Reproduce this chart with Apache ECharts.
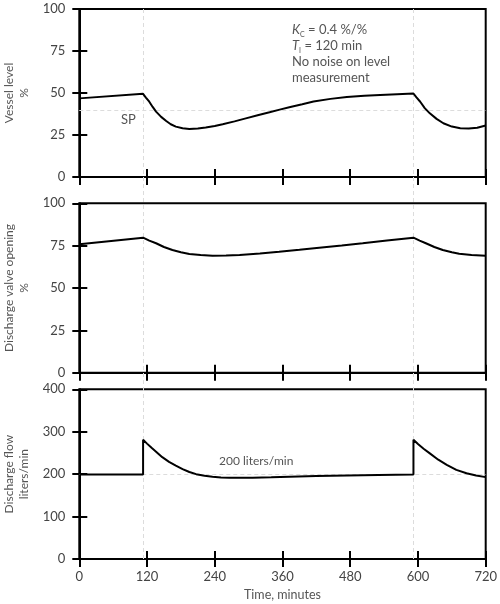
<!DOCTYPE html>
<html>
<head>
<meta charset="utf-8">
<script src="https://cdn.jsdelivr.net/npm/echarts@6/dist/echarts.min.js"></script>
<style>
html,body{margin:0;padding:0;background:#fff;}
#main{width:500px;height:604px;}
</style>
</head>
<body>
<div id="main"></div>
<script>
// time axis (minutes) shared by all three panels
var timeMin = 0, timeMax = 720, timeStep = 120;
var disturbanceTimes = [113, 592];

// vessel level, %
var levelTime = [0,113,118,124,130,136,145,154,162,171,183,195,210,224,240,254,275,295,316,337,355,372,395,415,445,474,505,533,563,592,597,604,612,621,633,645,660,675,690,705,720];
var levelPct  = [46.8,49.5,47.3,44.8,41.7,38.9,35.8,33.3,31.4,30.0,29.0,28.6,28.8,29.4,30.3,31.4,33.1,34.9,36.8,38.5,40.1,41.5,43.3,44.9,46.5,47.6,48.3,48.8,49.3,49.7,47.5,44.8,41.0,37.9,34.6,32.0,30.0,29.0,28.8,29.3,30.7];
var levelSetpoint = 40;

// discharge valve opening, %
var valveTime = [0,113,124,136,150,165,180,195,215,236,260,284,320,354,390,425,465,502,545,592,603,614,629,644,660,673,695,720];
var valvePct  = [75.8,79.7,78.0,76.4,74.2,72.4,71.1,70.1,69.5,69.1,69.2,69.5,70.4,71.4,72.6,73.8,75.1,76.4,78.0,79.7,78.0,76.4,74.2,72.4,71.1,70.2,69.5,69.1];

// discharge flow, liters/min
var flowTime = [0,113,113,120,128,136,147,159,171,183,195,207,222,236,251,266,290,307,340,372,420,474,530,592,592,600,610,621,636,651,668,686,703,720];
var flowLpm  = [199,199,281,272,262,253,240,229,220,212,205,200,196,194,192,191.5,191.5,191.7,192.5,194,195.5,197,198,199,281,271,260,249,234,222,210,202,197,193];
var flowNominal = 200;

var FONT = 'Lato';
var TXT = '#555';
var ec = echarts.init(document.getElementById('main'));

var grids = [
  {left: 79.3, right: 14.3, top: 9, height: 168},
  {left: 79.3, right: 14.3, top: 203.3, height: 169.4},
  {left: 79.3, right: 14.3, top: 389.3, height: 169.7}
];
var yCfg = [
  {max: 100, interval: 25, name: 'Vessel level\n%'},
  {max: 100, interval: 25, name: 'Discharge valve opening\n%'},
  {max: 400, interval: 100, name: 'Discharge flow\nliters/min'}
];

var xAxes = [], yAxes = [], gridList = [];
grids.forEach(function (g, i) {
  gridList.push({left: g.left, right: g.right, top: g.top, height: g.height,
    outerBoundsMode: 'none', containLabel: false,
    show: true, borderColor: '#000', borderWidth: 2, backgroundColor: 'transparent'});
  var last = i === 2;
  // outer ticks + axis line + labels
  xAxes.push({type: 'value', gridIndex: i, min: timeMin, max: timeMax, interval: timeStep, position: 'bottom',
    axisLine: {show: true, lineStyle: {color: '#000', width: 2}},
    axisTick: {show: true, inside: false, length: 8, lineStyle: {color: '#000', width: 2}},
    axisLabel: {show: last, margin: 11, color: '#444', fontSize: 13, fontFamily: FONT},
    splitLine: {show: false},
    name: last ? 'Time, minutes' : '', nameLocation: 'middle', nameGap: 29,
    nameTextStyle: {color: TXT, fontSize: 12.5, fontFamily: FONT}});
  // inner ticks, so the ticks cross the axis
  xAxes.push({type: 'value', gridIndex: i, min: timeMin, max: timeMax, interval: timeStep, position: 'bottom',
    axisLine: {show: false, onZero: false}, axisLabel: {show: false}, splitLine: {show: false},
    axisTick: {show: true, inside: true, length: 8, lineStyle: {color: '#000', width: 2}}});
  yAxes.push({type: 'value', gridIndex: i, min: 0, max: yCfg[i].max, interval: yCfg[i].interval, position: 'left',
    axisLine: {show: true, lineStyle: {color: '#000', width: 2}},
    axisTick: {show: true, inside: false, length: 7, lineStyle: {color: '#000', width: 2}},
    axisLabel: {show: true, margin: 14, color: '#444', fontSize: 13, fontFamily: FONT},
    splitLine: {show: false},
    name: yCfg[i].name, nameLocation: 'middle', nameRotate: 90, nameGap: 43,
    nameTextStyle: {color: TXT, fontSize: 12, fontFamily: FONT, lineHeight: 15}});
  yAxes.push({type: 'value', gridIndex: i, min: 0, max: yCfg[i].max, interval: yCfg[i].interval, position: 'left',
    axisLine: {show: false, onZero: false}, axisLabel: {show: false}, splitLine: {show: false},
    axisTick: {show: true, inside: true, length: 8, lineStyle: {color: '#000', width: 2}}});
});
// overlay grid spanning all panels, for the disturbance lines
gridList.push({left: 79.3, right: 14.3, top: 9, height: 550, outerBoundsMode: 'none', containLabel: false});
xAxes.push({type: 'value', gridIndex: 3, min: timeMin, max: timeMax, show: false});
yAxes.push({type: 'value', gridIndex: 3, min: 0, max: 1, show: false});

function pairs(t, v) { return t.map(function (x, i) { return [x, v[i]]; }); }
var dash = {type: [4, 3], color: '#dcdcdc', width: 1};

var curve = {type: 'line', showSymbol: false, symbol: 'none', z: 5,
  lineStyle: {color: '#000', width: 2}};

var option = {
  animation: false,
  grid: gridList,
  xAxis: xAxes,
  yAxis: yAxes,
  series: [
    {type: 'line', xAxisIndex: 6, yAxisIndex: 6, data: [], z: 1, silent: true,
      markLine: {silent: true, symbol: 'none', label: {show: false}, lineStyle: dash,
        data: disturbanceTimes.map(function (t) { return {xAxis: t}; })}},
    Object.assign({}, curve, {xAxisIndex: 0, yAxisIndex: 0, data: pairs(levelTime, levelPct),
      markLine: {silent: true, symbol: 'none', label: {show: false}, lineStyle: dash, z: 1,
        data: [{yAxis: levelSetpoint}]}}),
    Object.assign({}, curve, {xAxisIndex: 2, yAxisIndex: 2, data: pairs(valveTime, valvePct)}),
    Object.assign({}, curve, {xAxisIndex: 4, yAxisIndex: 4, data: pairs(flowTime, flowLpm),
      markLine: {silent: true, symbol: 'none', label: {show: false}, lineStyle: dash, z: 1,
        data: [{yAxis: flowNominal}]}})
  ],
  graphic: [
    {type: 'text', left: 292, top: 22, style: {
      text: '{i|K}{s|C}{n| = 0.4 %/%}\n{i|T}{s|I}{n| = 120 min}\n{n|No noise on level}\n{n|measurement}',
      fill: TXT, font: '13px ' + FONT, lineHeight: 16,
      rich: {
        n: {fill: TXT, fontSize: 13, fontFamily: FONT, lineHeight: 16},
        i: {fill: TXT, fontSize: 13, fontFamily: FONT, fontStyle: 'italic', lineHeight: 16},
        s: {fill: TXT, fontSize: 7, fontFamily: FONT, verticalAlign: 'bottom', lineHeight: 12, padding: [6, 0, 0, 0]}
      }}},
    {type: 'text', left: 121, top: 113, style: {text: 'SP', fill: TXT, font: '13px ' + FONT}},
    {type: 'text', left: 219, top: 455, style: {text: '200 liters/min', fill: TXT, font: '12px ' + FONT}}
  ]
};
ec.setOption(option);
</script>
</body>
</html>
